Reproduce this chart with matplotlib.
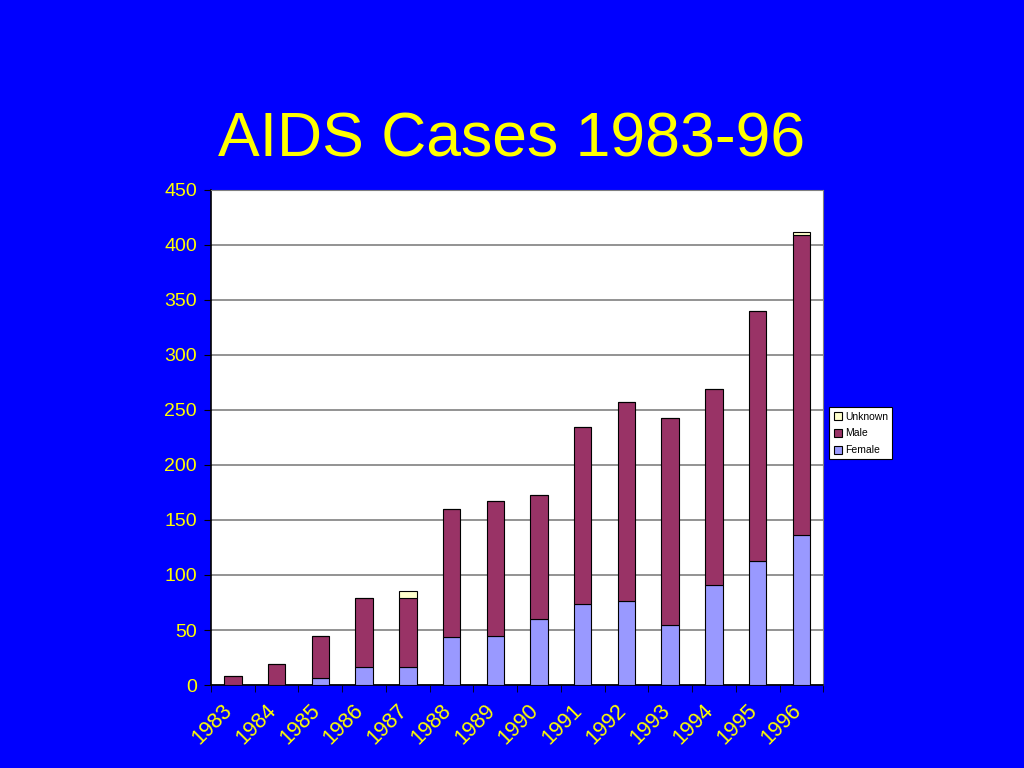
import matplotlib
matplotlib.use('Agg')
import matplotlib.pyplot as plt
import matplotlib.transforms as mtrans
import numpy as np

plt.rcParams['font.family'] = ['Liberation Sans', 'DejaVu Sans']

years = ['1983', '1984', '1985', '1986', '1987', '1988', '1989',
         '1990', '1991', '1992', '1993', '1994', '1995', '1996']
female = [0, 0, 6, 16, 16, 44, 45, 60, 74, 76, 55, 91, 113, 136]
male = [8, 19, 39, 63, 63, 116, 122, 113, 160, 181, 188, 178, 227, 273]
unknown = [0, 0, 0, 0, 6, 0, 0, 0, 0, 0, 0, 0, 0, 3]

blue = '#0000FF'
yellow = '#FFFF00'

fig = plt.figure(figsize=(10.24, 7.68), dpi=100, facecolor=blue)
ax = fig.add_axes([0.206, 0.108, 0.598, 0.645])
ax.set_facecolor('white')

x = np.arange(len(years))
w = 0.4
bottom_m = np.array(female)
bottom_u = bottom_m + np.array(male)
b_f = ax.bar(x, female, w, color='#9999FF', edgecolor='black', linewidth=0.8, label='Female', zorder=3)
b_m = ax.bar(x, male, w, bottom=bottom_m, color='#993366', edgecolor='black', linewidth=0.8, label='Male', zorder=3)
b_u = ax.bar(x, unknown, w, bottom=bottom_u, color='#FFFFCC', edgecolor='black', linewidth=0.8, label='Unknown', zorder=3)

ax.set_xlim(-0.5, len(years) - 0.5)
ax.set_ylim(0, 450)
ax.set_yticks(range(0, 451, 50))
ax.yaxis.grid(True, color='#808080', linewidth=1.2, zorder=0)

ax.set_xticks(x)
ax.set_xticklabels(years, rotation=45, ha='right', va='top', rotation_mode='anchor')
ax.set_xticks(np.arange(-0.5, len(years), 1), minor=True)
ax.tick_params(axis='x', which='major', length=0, pad=11, labelsize=15.5, labelcolor=yellow)
ax.tick_params(axis='x', which='minor', length=5, color='black', direction='out')
ax.tick_params(axis='y', length=5, color='black', labelsize=14, labelcolor=yellow, pad=5)

# nudge the rotated year labels a little to the left
shift = mtrans.ScaledTranslation(-11 / 100, 0, fig.dpi_scale_trans)
for lbl in ax.get_xticklabels():
    lbl.set_transform(lbl.get_transform() + shift)

for s in ['left', 'bottom']:
    ax.spines[s].set_color('black')
    ax.spines[s].set_linewidth(1.2)
for s in ['top', 'right']:
    ax.spines[s].set_color('#808080')
    ax.spines[s].set_linewidth(0.8)

leg = ax.legend(handles=[b_u, b_m, b_f], loc='center left', bbox_to_anchor=(1.01, 0.508),
                fontsize=7.5, frameon=True, fancybox=False, edgecolor='black',
                framealpha=1, borderpad=0.4, labelspacing=0.65, handlelength=0.8,
                handleheight=0.8, handletextpad=0.3, borderaxespad=0)
leg.get_frame().set_linewidth(0.8)

fig.text(0.5, 0.818, 'AIDS Cases 1983-96', color=yellow, fontsize=45, ha='center', va='center')

fig.savefig('out.png', dpi=100, facecolor=blue)
